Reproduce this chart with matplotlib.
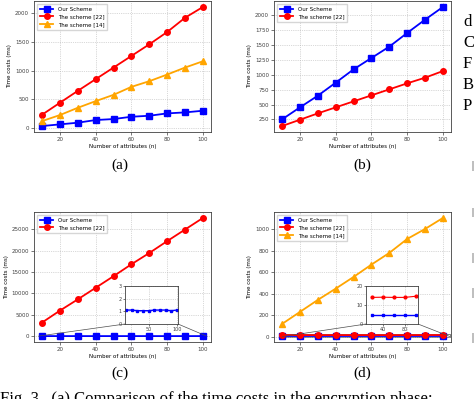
import numpy as np
import matplotlib.pyplot as plt
from matplotlib.patches import Rectangle
from mpl_toolkits.axes_grid1.inset_locator import mark_inset

########################################
# data

n_attr = [10, 20, 30, 40, 50, 60, 70, 80, 90, 100]

# (a)
ours_a = [40, 69, 98, 144, 161, 201, 218, 259, 276, 305]
s22_a = [236, 443, 649, 851, 1052, 1253, 1454, 1667, 1914, 2100]
s14_a = [126, 230, 356, 471, 580, 718, 816, 931, 1052, 1161]

# (b)
ours_b = [250, 452, 648, 867, 1091, 1282, 1473, 1703, 1927, 2140]
s22_b = [138, 244, 351, 452, 553, 654, 755, 856, 951, 1063]

# (c)
ours_c = [1.1, 1.1, 1.05, 1.05, 1.05, 1.1, 1.1, 1.1, 1.05, 1.1]
s22_c = [3170, 5960, 8590, 11300, 14010, 16800, 19430, 22210, 24920, 27630]

# (d)
ours_d = [4.8, 4.8, 4.8, 4.8, 4.8, 4.8, 4.8, 4.8, 4.8, 4.8]
s22_d = [14.0, 14.0, 14.2, 14.1, 14.1, 14.0, 14.0, 14.0, 14.6, 14.6]
s14_d = [118, 230, 342, 447, 556, 671, 780, 910, 1003, 1106]

labels = ["Our Scheme", "The scheme [22]", "The scheme [14]"]
x_ticks = [20, 40, 60, 80, 100]

########################################

fs = 4
plt.rcParams['font.size'] = fs
plt.rcParams['axes.edgecolor'] = '0.25'
plt.rcParams['axes.linewidth'] = 0.6
plt.rcParams['xtick.major.width'] = 0.5
plt.rcParams['ytick.major.width'] = 0.5
plt.rcParams['xtick.major.size'] = 2
plt.rcParams['ytick.major.size'] = 2
plt.rcParams['xtick.major.pad'] = 1.5
plt.rcParams['ytick.major.pad'] = 1.5

fig = plt.figure(figsize=(4.74, 3.99), dpi=100)

W, H = 474, 399


def px_axes(x0, y0, x1, y1):
    return fig.add_axes([x0 / W, 1 - y1 / H, (x1 - x0) / W, (y1 - y0) / H])


def style(ax, yticks):
    ax.grid(True, ls=':', color='0.7', lw=0.5)
    ax.set_xticks(x_ticks)
    ax.set_yticks(yticks)
    ax.set_xlabel("Number of attributes (n)", fontsize=4, labelpad=1.5)
    ax.set_ylabel("Time costs (ms)", fontsize=4, labelpad=2)
    ax.tick_params(labelsize=fs, colors='0.25')
    ax.legend(loc='upper left', fontsize=4, frameon=True, fancybox=False,
              edgecolor='0.8', handlelength=2.5, borderpad=0.5, labelspacing=0.5)


kw = dict(lw=1.3, markersize=4)

ax1 = px_axes(34, 1, 211, 132)
ax1.plot(n_attr, ours_a, color='blue', marker='s', label=labels[0], **kw)
ax1.plot(n_attr, s22_a, color='red', marker='o', label=labels[1], **kw)
ax1.plot(n_attr, s14_a, color='orange', marker='^', label=labels[2], **kw)
style(ax1, [0, 500, 1000, 1500, 2000])

ax2 = px_axes(274, 1, 451, 132)
ax2.plot(n_attr, ours_b, color='blue', marker='s', label=labels[0], **kw)
ax2.plot(n_attr, s22_b, color='red', marker='o', label=labels[1], **kw)
style(ax2, [250, 500, 750, 1000, 1250, 1500, 1750, 2000])

ax3 = px_axes(34, 212, 211, 342)
ax3.plot(n_attr, ours_c, color='blue', marker='s', label=labels[0], **kw)
ax3.plot(n_attr, s22_c, color='red', marker='o', label=labels[1], **kw)
style(ax3, [0, 5000, 10000, 15000, 20000, 25000])

ins3 = px_axes(125, 286, 178, 324)
ins3.plot(n_attr, ours_c, color='blue', marker='s', lw=1.0, markersize=2)
ins3.set_xlim(8, 102)
ins3.set_ylim(0, 3)
ins3.set_xticks([50, 100])
ins3.set_yticks([0, 1, 2, 3])
ins3.grid(True, ls=':', color='0.7', lw=0.5)
ins3.tick_params(labelsize=3.5, length=1.5, pad=1, colors='0.25')
mark_inset(ax3, ins3, loc1=3, loc2=4, fc='none', ec='0.3', lw=0.5)

ax4 = px_axes(274, 212, 451, 342)
ax4.plot(n_attr, ours_d, color='blue', marker='s', label=labels[0], **kw)
ax4.plot(n_attr, s22_d, color='red', marker='o', label=labels[1], **kw)
ax4.plot(n_attr, s14_d, color='orange', marker='^', label=labels[2], **kw)
style(ax4, [0, 200, 400, 600, 800, 1000])

ins4 = px_axes(366, 286, 418, 324)
ins4.plot(n_attr[1::2], ours_d[1::2], color='blue', marker='s', lw=1.0, markersize=2)
ins4.plot(n_attr[1::2], s22_d[1::2], color='red', marker='o', lw=0.8, markersize=2)
ins4.set_xlim(10, 104)
ins4.set_ylim(0, 20)
ins4.set_xticks([40, 80])
ins4.set_yticks([0, 10, 20])
ins4.grid(True, ls=':', color='0.7', lw=0.5)
ins4.tick_params(labelsize=3.5, length=1.5, pad=1, colors='0.25')
mark_inset(ax4, ins4, loc1=3, loc2=4, fc='none', ec='0.3', lw=0.5)

# sub-captions
serif = ['Liberation Serif', 'DejaVu Serif']
for lab, cx, cy in [("(a)", 120, 165), ("(b)", 362, 165), ("(c)", 120, 373), ("(d)", 362, 373)]:
    fig.text(cx / W, 1 - cy / H, lab, ha='center', va='center', fontsize=11, family=serif)

# bits of the page around the figure
for ch, by in zip("dCFBP", [26, 47, 68, 89, 110]):
    fig.text(463 / W, 1 - by / H, ch, ha='left', va='baseline', fontsize=12, family=serif)
for y0, y1 in [(161, 171), (208, 217), (253, 263), (288, 298), (333, 343)]:
    fig.patches.append(Rectangle((472 / W, 1 - y1 / H), 2 / W, (y1 - y0) / H,
                                 transform=fig.transFigure, color='0.75', lw=0))
fig.text(0.0, -4 / H, "Fig. 3.  (a) Comparison of the time costs in the encryption phase;",
         ha='left', va='baseline', fontsize=12, family=serif)

fig.savefig('out.png', dpi=100)
